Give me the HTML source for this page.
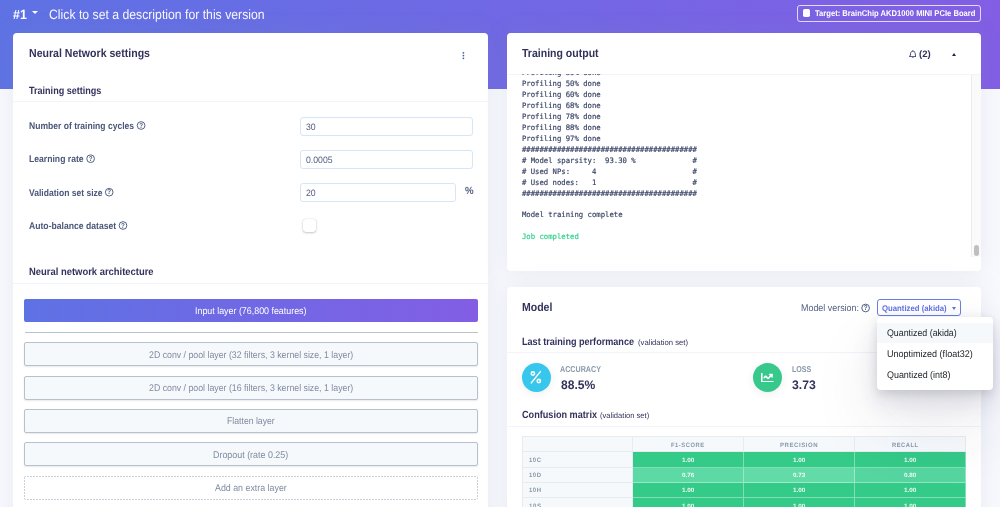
<!DOCTYPE html>
<html lang="en">
<head>
<meta charset="utf-8">
<title>Neural Network settings</title>
<style>
*{box-sizing:border-box;margin:0;padding:0}
html,body{width:1000px;height:507px;overflow:hidden}
body{position:relative;background:#f8f9fe;font-family:"Liberation Sans",sans-serif;color:#32325d}
.a,.t{position:absolute}
.t{white-space:pre;line-height:1;transform-origin:0 0;text-rendering:geometricPrecision}
#hdr{left:0;top:0;width:1000px;height:88.5px;background:linear-gradient(87deg,#5e72e4 0,#825ee4 100%)}
.card{background:#fff;border-radius:4px;box-shadow:0 0 22px rgba(136,152,170,.15)}
.hr{height:1px;background:#f3f4f9}
.inp{border:1px solid #d5e7f7;border-radius:3px;background:#fff}
.layer{left:24px;width:454px;height:24px;border:1px solid #b7c1cc;border-radius:2px;background:#f6f9fc;box-shadow:0 1px 1.5px rgba(50,50,93,.1)}
</style>
</head>
<body>
<div id="hdr" class="a"></div>

<!-- header -->
<div class="a" style="left:31.7px;top:11.4px;width:0;height:0;border-left:3.9px solid transparent;border-right:3.9px solid transparent;border-top:3.8px solid #fff"></div>
<div class="a" style="left:797.4px;top:5px;width:184px;height:16.8px;border:1px solid rgba(255,255,255,.78);border-radius:3px"></div>
<div class="a" style="left:803.4px;top:9.3px;width:6.2px;height:7.6px;background:#fff;border-radius:1.7px"></div>

<!-- left card -->
<div class="a card" style="left:13px;top:33px;width:475px;height:500px"></div>
<svg class="a" style="left:460px;top:50px" width="8" height="12" viewBox="0 0 8 12"><g fill="#4a5f99"><circle cx="3.4" cy="2.8" r=".9"/><circle cx="3.4" cy="5.55" r=".9"/><circle cx="3.4" cy="8.3" r=".9"/></g></svg>
<div class="a hr" style="left:13px;top:101px;width:475px"></div>

<div class="a inp" style="left:300px;top:117px;width:173.4px;height:19px"></div>
<div class="a inp" style="left:300px;top:150px;width:173.4px;height:19px"></div>
<div class="a inp" style="left:300px;top:183px;width:156px;height:19px"></div>
<div class="a" style="left:302.8px;top:219px;width:13.2px;height:12.9px;border-radius:3px;background:#fff;box-shadow:0 .7px 2.2px rgba(50,50,93,.32),0 0 .8px rgba(0,0,0,.2)"></div>

<svg class="a" style="left:135px;top:119px" width="12" height="12" viewBox="0 0 12 12"><circle cx="6.10" cy="6.50" r="3.85" fill="none" stroke="#4d5a80" stroke-width=".95"/><text x="6.10" y="8.75" text-anchor="middle" font-family="'Liberation Sans',sans-serif" font-weight="bold" font-size="6.3" fill="#4d5a80">?</text></svg>
<svg class="a" style="left:84px;top:152px" width="12" height="12" viewBox="0 0 12 12"><circle cx="6.60" cy="6.70" r="3.85" fill="none" stroke="#4d5a80" stroke-width=".95"/><text x="6.60" y="8.95" text-anchor="middle" font-family="'Liberation Sans',sans-serif" font-weight="bold" font-size="6.3" fill="#4d5a80">?</text></svg>
<svg class="a" style="left:103px;top:186px" width="12" height="12" viewBox="0 0 12 12"><circle cx="6.20" cy="6.20" r="3.85" fill="none" stroke="#4d5a80" stroke-width=".95"/><text x="6.20" y="8.45" text-anchor="middle" font-family="'Liberation Sans',sans-serif" font-weight="bold" font-size="6.3" fill="#4d5a80">?</text></svg>
<svg class="a" style="left:117px;top:219px" width="12" height="12" viewBox="0 0 12 12"><circle cx="6.00" cy="6.50" r="3.85" fill="none" stroke="#4d5a80" stroke-width=".95"/><text x="6.00" y="8.75" text-anchor="middle" font-family="'Liberation Sans',sans-serif" font-weight="bold" font-size="6.3" fill="#4d5a80">?</text></svg>

<div class="a hr" style="left:13px;top:283.3px;width:475px"></div>
<div class="a" style="left:24.4px;top:299px;width:453.2px;height:23px;border-radius:2px;background:linear-gradient(87deg,#5e72e4 0,#825ee4 100%)"></div>
<div class="a" style="left:24.6px;top:332px;width:453px;height:1px;background:#b9c2cc"></div>
<div class="a layer" style="top:342px"></div>
<div class="a layer" style="top:376px"></div>
<div class="a layer" style="top:409px"></div>
<div class="a layer" style="top:442px"></div>
<div class="a" style="left:24px;top:476px;width:454px;height:24px;border-radius:2px;background:repeating-linear-gradient(90deg,#cad0da 0 2px,transparent 2px 3px) 0 0/100% 1px no-repeat,repeating-linear-gradient(90deg,#cad0da 0 2px,transparent 2px 3px) 0 100%/100% 1px no-repeat,repeating-linear-gradient(0deg,#cad0da 0 2px,transparent 2px 3px) 0 0/1px 100% no-repeat,repeating-linear-gradient(0deg,#cad0da 0 2px,transparent 2px 3px) 100% 0/1px 100% no-repeat,#fff"></div>

<!-- right card: training output -->
<div class="a card" style="left:507px;top:33px;width:474px;height:238px"></div>
<div class="a hr" style="left:507px;top:74px;width:474px"></div>
<div class="a" style="left:951.8px;top:53.4px;width:0;height:0;border-left:2.7px solid transparent;border-right:2.7px solid transparent;border-bottom:3.1px solid #172b4d"></div>
<svg class="a" style="left:908.7px;top:49.6px" width="7.8" height="8.6" viewBox="0 0 448 512"><path fill="#32325d" d="M439.4 362.3c-19.3-20.8-55.5-52-55.500-154.300 0-77.700-54.500-139.900-127.900-155.200V32c0-17.700-14.300-32-32-32s-32 14.300-32 32v20.800C118.600 68.100 64.100 130.300 64.100 208c0 102.300-36.200 133.500-55.500 154.300-6 6.400-8.700 14.100-8.600 21.700.1 16.400 13 32 32.100 32h383.800c19.100 0 32-15.600 32.100-32 .1-7.600-2.600-15.300-8.600-21.700zM67.500 368c21.200-28 44.400-74.300 44.500-159.400 0-.2-.1-.4-.1-.6 0-61.900 50.100-112 112-112s112 50.100 112 112c0 .2-.1.400-.1.600.1 85.100 23.300 131.500 44.500 159.400H67.500zM224 512c35.300 0 64-28.700 64-64H160c0 35.300 28.700 64 64 64z"/></svg>
<div class="a" style="left:971px;top:75px;width:10px;height:181.5px;background:#fafafa;border-left:1px solid #ececee"></div>
<div class="a" style="left:973.5px;top:245px;width:5.5px;height:10.8px;background:#bfbfc1;border-radius:2.75px"></div>
<div class="a" style="left:507px;top:74px;width:464px;height:191px;overflow:hidden"><div class="t" style="left:14.90px;top:-4.63px;font-size:7.5px;color:#364164;transform:scaleX(0.9682);font-family:'DejaVu Sans Mono','Liberation Mono',monospace;-webkit-text-stroke:.16px #364164">Profiling 39% done</div>
<div class="t" style="left:14.90px;top:6.30px;font-size:7.5px;color:#364164;transform:scaleX(0.9682);font-family:'DejaVu Sans Mono','Liberation Mono',monospace;-webkit-text-stroke:.16px #364164">Profiling 50% done</div>
<div class="t" style="left:14.90px;top:17.23px;font-size:7.5px;color:#364164;transform:scaleX(0.9682);font-family:'DejaVu Sans Mono','Liberation Mono',monospace;-webkit-text-stroke:.16px #364164">Profiling 60% done</div>
<div class="t" style="left:14.90px;top:28.16px;font-size:7.5px;color:#364164;transform:scaleX(0.9682);font-family:'DejaVu Sans Mono','Liberation Mono',monospace;-webkit-text-stroke:.16px #364164">Profiling 68% done</div>
<div class="t" style="left:14.90px;top:39.09px;font-size:7.5px;color:#364164;transform:scaleX(0.9682);font-family:'DejaVu Sans Mono','Liberation Mono',monospace;-webkit-text-stroke:.16px #364164">Profiling 78% done</div>
<div class="t" style="left:14.90px;top:50.02px;font-size:7.5px;color:#364164;transform:scaleX(0.9682);font-family:'DejaVu Sans Mono','Liberation Mono',monospace;-webkit-text-stroke:.16px #364164">Profiling 88% done</div>
<div class="t" style="left:14.90px;top:60.95px;font-size:7.5px;color:#364164;transform:scaleX(0.9682);font-family:'DejaVu Sans Mono','Liberation Mono',monospace;-webkit-text-stroke:.16px #364164">Profiling 97% done</div>
<div class="t" style="left:14.90px;top:71.88px;font-size:7.5px;color:#364164;transform:scaleX(0.9682);font-family:'DejaVu Sans Mono','Liberation Mono',monospace;-webkit-text-stroke:.16px #364164">########################################</div>
<div class="t" style="left:14.90px;top:82.81px;font-size:7.5px;color:#364164;transform:scaleX(0.9682);font-family:'DejaVu Sans Mono','Liberation Mono',monospace;-webkit-text-stroke:.16px #364164"># Model sparsity:  93.30 %             #</div>
<div class="t" style="left:14.90px;top:93.74px;font-size:7.5px;color:#364164;transform:scaleX(0.9682);font-family:'DejaVu Sans Mono','Liberation Mono',monospace;-webkit-text-stroke:.16px #364164"># Used NPs:     4                      #</div>
<div class="t" style="left:14.90px;top:104.67px;font-size:7.5px;color:#364164;transform:scaleX(0.9682);font-family:'DejaVu Sans Mono','Liberation Mono',monospace;-webkit-text-stroke:.16px #364164"># Used nodes:   1                      #</div>
<div class="t" style="left:14.90px;top:115.60px;font-size:7.5px;color:#364164;transform:scaleX(0.9682);font-family:'DejaVu Sans Mono','Liberation Mono',monospace;-webkit-text-stroke:.16px #364164">########################################</div>
<div class="t" style="left:14.90px;top:137.46px;font-size:7.5px;color:#364164;transform:scaleX(0.9682);font-family:'DejaVu Sans Mono','Liberation Mono',monospace;-webkit-text-stroke:.16px #364164">Model training complete</div>
<div class="t" style="left:14.90px;top:159.32px;font-size:7.5px;color:#2dce89;transform:scaleX(0.9682);font-family:'DejaVu Sans Mono','Liberation Mono',monospace;-webkit-text-stroke:.16px #2dce89">Job completed</div></div>

<!-- right card: model -->
<div class="a card" style="left:507px;top:287px;width:474px;height:240px"></div>
<svg class="a" style="left:859px;top:302px" width="12" height="12" viewBox="0 0 12 12"><circle cx="6.60" cy="6.00" r="3.85" fill="none" stroke="#4d5a80" stroke-width=".95"/><text x="6.60" y="8.25" text-anchor="middle" font-family="'Liberation Sans',sans-serif" font-weight="bold" font-size="6.3" fill="#4d5a80">?</text></svg>
<div class="a" style="left:876.8px;top:299.3px;width:84.4px;height:17px;border:1px solid #6c7de6;border-radius:3px;background:#fff"></div>
<div class="a" style="left:951.5px;top:306.7px;width:0;height:0;border-left:2.9px solid transparent;border-right:2.9px solid transparent;border-top:3px solid #5e72e4"></div>
<div class="a hr" style="left:507px;top:352px;width:474px"></div>

<div class="a" style="left:521.6px;top:362.7px;width:29.4px;height:29.5px;border-radius:50%;background:#37c6ec;box-shadow:0 2px 8px rgba(50,50,93,.08)"></div>
<svg class="a" style="left:528px;top:369px" width="16" height="17" viewBox="528 369 16 17"><g fill="none" stroke="#fff" stroke-width="1.55"><circle cx="532.9" cy="373.5" r="1.65"/><circle cx="538.8" cy="381" r="1.65"/><path d="M540.4 371.6L531.3 382.9" stroke-linecap="round" stroke-width="1.5"/></g></svg>
<div class="a" style="left:753px;top:362.7px;width:29.3px;height:29.3px;border-radius:50%;background:#37c98b;box-shadow:0 2px 8px rgba(50,50,93,.08)"></div>
<svg class="a" style="left:761px;top:372.6px" width="12.6" height="9.5" viewBox="0 0 512 384"><path fill="#fff" d="M496 320H64V16c0-8.800-7.200-16-16-16H16C7.200 0 0 7.200 0 16v336c0 17.700 14.300 32 32 32h464c8.800 0 16-7.200 16-16v-32c0-8.800-7.200-16-16-16zM464 32H345.900c-21.400 0-32.100 25.900-17 41l32.400 32.400L288 178.700l-73.400-73.400c-12.500-12.500-32.800-12.500-45.300 0l-68.700 68.700c-6.200 6.200-6.200 16.400 0 22.600l22.600 22.600c6.200 6.200 16.400 6.200 22.600 0L192 173.300l73.400 73.400c12.500 12.500 32.800 12.500 45.300 0l96-96 32.400 32.400c15.100 15.100 41 4.400 41-17V48c-.1-8.800-7.200-16-16.100-16z"/></svg>
<div class="a hr" style="left:507px;top:425.7px;width:474px"></div>

<!-- confusion matrix -->
<div class="a" style="left:522px;top:436px;width:444px;height:80px;background:#f6f9fc;border:1px solid #e9ecef;border-bottom:0"></div>
<div class="a" style="left:633px;top:452px;width:111px;height:16px;background:#34ca88;box-shadow:inset -1px -1px 0 rgba(255,255,255,.38)"></div>
<div class="a" style="left:744px;top:452px;width:111px;height:16px;background:#34ca88;box-shadow:inset -1px -1px 0 rgba(255,255,255,.38)"></div>
<div class="a" style="left:855px;top:452px;width:111px;height:16px;background:#34ca88;box-shadow:inset -1px -1px 0 rgba(255,255,255,.38)"></div>
<div class="a" style="left:633px;top:468px;width:111px;height:15px;background:#5cd9a5;box-shadow:inset -1px -1px 0 rgba(255,255,255,.38)"></div>
<div class="a" style="left:744px;top:468px;width:111px;height:15px;background:#63dba9;box-shadow:inset -1px -1px 0 rgba(255,255,255,.38)"></div>
<div class="a" style="left:855px;top:468px;width:111px;height:15px;background:#55d6a0;box-shadow:inset -1px -1px 0 rgba(255,255,255,.38)"></div>
<div class="a" style="left:633px;top:483px;width:111px;height:15px;background:#34ca88;box-shadow:inset -1px -1px 0 rgba(255,255,255,.38)"></div>
<div class="a" style="left:744px;top:483px;width:111px;height:15px;background:#34ca88;box-shadow:inset -1px -1px 0 rgba(255,255,255,.38)"></div>
<div class="a" style="left:855px;top:483px;width:111px;height:15px;background:#34ca88;box-shadow:inset -1px -1px 0 rgba(255,255,255,.38)"></div>
<div class="a" style="left:633px;top:498px;width:111px;height:16px;background:#34ca88;box-shadow:inset -1px -1px 0 rgba(255,255,255,.38)"></div>
<div class="a" style="left:744px;top:498px;width:111px;height:16px;background:#34ca88;box-shadow:inset -1px -1px 0 rgba(255,255,255,.38)"></div>
<div class="a" style="left:855px;top:498px;width:111px;height:16px;background:#34ca88;box-shadow:inset -1px -1px 0 rgba(255,255,255,.38)"></div>
<div class="a" style="left:522px;top:451px;width:111px;height:1px;background:#e9ecef"></div>
<div class="a" style="left:522px;top:467px;width:111px;height:1px;background:#e9ecef"></div>
<div class="a" style="left:522px;top:482px;width:111px;height:1px;background:#e9ecef"></div>
<div class="a" style="left:522px;top:497px;width:111px;height:1px;background:#e9ecef"></div>
<div class="a" style="left:632px;top:451px;width:334px;height:1px;background:#e9ecef"></div>
<div class="a" style="left:632px;top:436px;width:1px;height:15px;background:#e9ecef"></div>
<div class="a" style="left:743px;top:436px;width:1px;height:15px;background:#e9ecef"></div>
<div class="a" style="left:854px;top:436px;width:1px;height:15px;background:#e9ecef"></div>
<div class="a" style="left:632px;top:451px;width:1px;height:70px;background:#e9ecef"></div>
<div class="t" style="left:671.40px;top:442.80px;font-size:6.3px;color:#8898aa;transform:scaleX(0.9212);font-weight:bold;letter-spacing:0.6px;">F1-SCORE</div>
<div class="t" style="left:780.30px;top:442.80px;font-size:6.3px;color:#8898aa;transform:scaleX(0.9557);font-weight:bold;letter-spacing:0.6px;">PRECISION</div>
<div class="t" style="left:892.10px;top:442.80px;font-size:6.3px;color:#8898aa;transform:scaleX(0.9110);font-weight:bold;letter-spacing:0.6px;">RECALL</div>
<div class="t" style="left:529.00px;top:457.80px;font-size:6.3px;color:#8898aa;transform:scaleX(0.9405);font-weight:bold;letter-spacing:0.6px;">10C</div>
<div class="t" style="left:681.80px;top:457.80px;font-size:6.1px;color:#fff;transform:scaleX(1.0442);font-weight:bold;opacity:.92">1.00</div>
<div class="t" style="left:792.70px;top:457.80px;font-size:6.1px;color:#fff;transform:scaleX(1.0442);font-weight:bold;opacity:.92">1.00</div>
<div class="t" style="left:903.85px;top:457.80px;font-size:6.1px;color:#fff;transform:scaleX(1.0442);font-weight:bold;opacity:.92">1.00</div>
<div class="t" style="left:529.00px;top:473.07px;font-size:6.3px;color:#8898aa;transform:scaleX(0.9405);font-weight:bold;letter-spacing:0.6px;">10D</div>
<div class="t" style="left:681.80px;top:473.07px;font-size:6.1px;color:#fff;transform:scaleX(1.0442);font-weight:bold;opacity:.92">0.76</div>
<div class="t" style="left:792.70px;top:473.07px;font-size:6.1px;color:#fff;transform:scaleX(1.0442);font-weight:bold;opacity:.92">0.73</div>
<div class="t" style="left:903.85px;top:473.07px;font-size:6.1px;color:#fff;transform:scaleX(1.0442);font-weight:bold;opacity:.92">0.80</div>
<div class="t" style="left:529.00px;top:488.34px;font-size:6.3px;color:#8898aa;transform:scaleX(0.9405);font-weight:bold;letter-spacing:0.6px;">10H</div>
<div class="t" style="left:681.80px;top:488.34px;font-size:6.1px;color:#fff;transform:scaleX(1.0442);font-weight:bold;opacity:.92">1.00</div>
<div class="t" style="left:792.70px;top:488.34px;font-size:6.1px;color:#fff;transform:scaleX(1.0442);font-weight:bold;opacity:.92">1.00</div>
<div class="t" style="left:903.85px;top:488.34px;font-size:6.1px;color:#fff;transform:scaleX(1.0442);font-weight:bold;opacity:.92">1.00</div>
<div class="t" style="left:529.00px;top:503.61px;font-size:6.3px;color:#8898aa;transform:scaleX(0.9665);font-weight:bold;letter-spacing:0.6px;">10S</div>
<div class="t" style="left:681.80px;top:503.61px;font-size:6.1px;color:#fff;transform:scaleX(1.0442);font-weight:bold;opacity:.92">1.00</div>
<div class="t" style="left:792.70px;top:503.61px;font-size:6.1px;color:#fff;transform:scaleX(1.0442);font-weight:bold;opacity:.92">1.00</div>
<div class="t" style="left:903.85px;top:503.61px;font-size:6.1px;color:#fff;transform:scaleX(1.0442);font-weight:bold;opacity:.92">1.00</div>

<!-- dropdown -->
<div class="a" style="left:876.8px;top:317px;width:116.5px;height:73.4px;background:#fff;border-radius:4px;box-shadow:0 35px 69px rgba(50,50,93,.1),0 10px 24px rgba(50,50,93,.15),0 3.5px 10px rgba(0,0,0,.1)"></div>
<div class="a" style="left:876.8px;top:322.6px;width:116.5px;height:20px;background:#f6f9fc"></div>

<div class="t" style="left:13.40px;top:7.60px;font-size:13.4px;color:#fff;transform:scaleX(0.9258);font-weight:bold;">#1</div>
<div class="t" style="left:49.00px;top:7.60px;font-size:13.5px;color:#fff;transform:scaleX(0.9064);opacity:.95">Click to set a description for this version</div>
<div class="t" style="left:815.00px;top:9.00px;font-size:8.4px;color:#fff;transform:scaleX(0.9094);font-weight:bold;">Target: BrainChip AKD1000 MINI PCIe Board</div>
<div class="t" style="left:29.00px;top:48.20px;font-size:11.8px;color:#32325d;transform:scaleX(0.8960);font-weight:bold;">Neural Network settings</div>
<div class="t" style="left:29.00px;top:86.60px;font-size:10.4px;color:#32325d;transform:scaleX(0.8708);font-weight:bold;">Training settings</div>
<div class="t" style="left:29.00px;top:122.20px;font-size:9.7px;color:#4b5779;transform:scaleX(0.8833);font-weight:bold;">Number of training cycles</div>
<div class="t" style="left:29.00px;top:155.40px;font-size:9.7px;color:#4b5779;transform:scaleX(0.8896);font-weight:bold;">Learning rate</div>
<div class="t" style="left:29.00px;top:188.70px;font-size:9.7px;color:#4b5779;transform:scaleX(0.8819);font-weight:bold;">Validation set size</div>
<div class="t" style="left:29.00px;top:222.20px;font-size:9.7px;color:#4b5779;transform:scaleX(0.8899);font-weight:bold;">Auto-balance dataset</div>
<div class="t" style="left:305.80px;top:121.50px;font-size:9.4px;color:#525f7f;transform:scaleX(0.9293);">30</div>
<div class="t" style="left:305.80px;top:154.80px;font-size:9.4px;color:#525f7f;transform:scaleX(0.9272);">0.0005</div>
<div class="t" style="left:305.80px;top:188.20px;font-size:9.4px;color:#525f7f;transform:scaleX(0.9293);">20</div>
<div class="t" style="left:464.80px;top:186.20px;font-size:10.6px;color:#525f7f;transform:scaleX(0.9128);font-weight:bold;">%</div>
<div class="t" style="left:29.00px;top:268.00px;font-size:10.4px;color:#32325d;transform:scaleX(0.9066);font-weight:bold;">Neural network architecture</div>
<div class="t" style="left:195.00px;top:307.00px;font-size:9.7px;color:#fff;transform:scaleX(0.9160);">Input layer (76,800 features)</div>
<div class="t" style="left:148.75px;top:351.00px;font-size:9.7px;color:#7f8ba0;transform:scaleX(0.9053);">2D conv / pool layer (32 filters, 3 kernel size, 1 layer)</div>
<div class="t" style="left:148.75px;top:384.30px;font-size:9.7px;color:#7f8ba0;transform:scaleX(0.9053);">2D conv / pool layer (16 filters, 3 kernel size, 1 layer)</div>
<div class="t" style="left:226.75px;top:417.30px;font-size:9.7px;color:#7f8ba0;transform:scaleX(0.8957);">Flatten layer</div>
<div class="t" style="left:213.00px;top:450.60px;font-size:9.7px;color:#7f8ba0;transform:scaleX(0.9193);">Dropout (rate 0.25)</div>
<div class="t" style="left:215.00px;top:483.80px;font-size:9.7px;color:#7f8ba0;transform:scaleX(0.9126);">Add an extra layer</div>
<div class="t" style="left:522.00px;top:48.40px;font-size:11.8px;color:#32325d;transform:scaleX(0.8923);font-weight:bold;">Training output</div>
<div class="t" style="left:918.50px;top:49.00px;font-size:9.4px;color:#32325d;transform:scaleX(1.0202);font-weight:bold;">(2)</div>
<div class="t" style="left:522.00px;top:302.00px;font-size:11.8px;color:#32325d;transform:scaleX(0.8921);font-weight:bold;">Model</div>
<div class="t" style="left:800.90px;top:304.00px;font-size:9.7px;color:#525f7f;transform:scaleX(0.9206);">Model version:</div>
<div class="t" style="left:882.40px;top:303.60px;font-size:8.3px;color:#5e72e4;transform:scaleX(0.9356);font-weight:bold;">Quantized (akida)</div>
<div class="t" style="left:522.00px;top:338.00px;font-size:10.4px;color:#32325d;transform:scaleX(0.8737);font-weight:bold;">Last training performance</div>
<div class="t" style="left:638.00px;top:339.00px;font-size:7.8px;color:#32325d;transform:scaleX(0.9861);">(validation set)</div>
<div class="t" style="left:560.20px;top:364.50px;font-size:8.5px;color:#8898aa;transform:scaleX(0.8409);font-weight:bold;">ACCURACY</div>
<div class="t" style="left:560.60px;top:378.50px;font-size:12.4px;color:#32325d;transform:scaleX(0.9732);font-weight:bold;">88.5%</div>
<div class="t" style="left:791.70px;top:364.50px;font-size:8.5px;color:#8898aa;transform:scaleX(0.8335);font-weight:bold;">LOSS</div>
<div class="t" style="left:791.70px;top:378.50px;font-size:12.4px;color:#32325d;transform:scaleX(0.9865);font-weight:bold;">3.73</div>
<div class="t" style="left:521.60px;top:410.70px;font-size:10.4px;color:#32325d;transform:scaleX(0.8777);font-weight:bold;">Confusion matrix</div>
<div class="t" style="left:599.80px;top:411.70px;font-size:7.8px;color:#32325d;transform:scaleX(0.9704);">(validation set)</div>
<div class="t" style="left:886.60px;top:328.80px;font-size:9.7px;color:#212529;transform:scaleX(0.9115);">Quantized (akida)</div>
<div class="t" style="left:886.60px;top:350.20px;font-size:9.7px;color:#212529;transform:scaleX(0.9307);">Unoptimized (float32)</div>
<div class="t" style="left:886.60px;top:371.20px;font-size:9.7px;color:#212529;transform:scaleX(0.9197);">Quantized (int8)</div>
</body>
</html>
